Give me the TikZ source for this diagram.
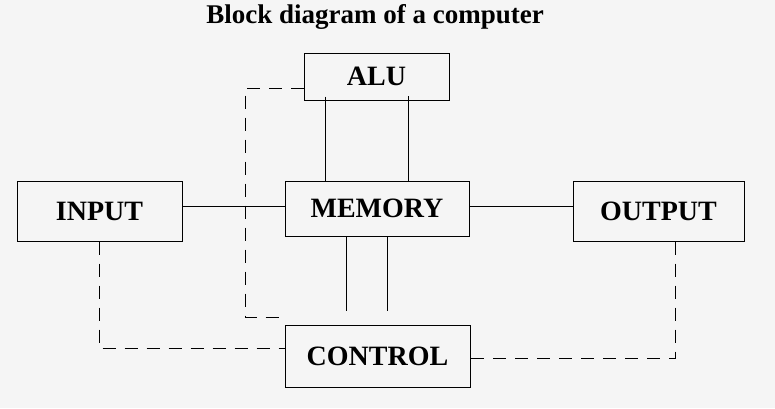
\documentclass[tikz,border=0pt]{standalone}
\usepackage{fontspec}
\setmainfont{Liberation Serif}
\begin{document}
\begin{tikzpicture}[x=1pt,y=-1pt,
 box/.style={draw,line width=1pt,inner sep=0pt,font=\bfseries\fontsize{28}{30}\selectfont},
 ln/.style={line width=0.9pt},
 dl/.style={line width=0.9pt,dash pattern=on 13pt off 9pt}]
\fill[black!4] (0,0) rectangle (775,408);
\useasboundingbox (0,0) rectangle (775,408);
\node[font=\bfseries\fontsize{27}{30}\selectfont] (title) at (375,17) {Block diagram of a computer};
\node[box,minimum width=145pt,minimum height=47pt] (alu) at (376.5,76.5) {ALU};
\node[box,minimum width=165pt,minimum height=60pt] (in) at (99.5,211) {INPUT};
\node[box,minimum width=184pt,minimum height=55pt] (mem) at (377,208.5) {MEMORY};
\node[box,minimum width=171pt,minimum height=60pt] (out) at (658.5,211) {OUTPUT};
\node[box,minimum width=185pt,minimum height=62pt] (ctl) at (377.5,356) {CONTROL};
\coordinate (m1) at (346,311); \coordinate (m2) at (387,311);
\draw[ln] (alu.south west -| 325,0) ++(0,-4) -- (325,181);
\draw[ln] (408,96) -- (408,181);
\draw[ln] (in.east |- 0,206) -- (mem.west |- 0,206);
\draw[ln] (mem.east |- 0,206) -- (out.west |- 0,206);
\draw[ln] (346,236) -- (m1);
\draw[ln] (387,236) -- (m2);
\draw[dl] (alu.west |- 0,88) -- (245,88) -- (245,317) -- (285,317);
\draw[dl] (in.south -| 99,0) -- (99,348) -- (ctl.west |- 0,348);
\draw[dl] (out.south -| 675,0) -- (675,358) -- (ctl.east |- 0,358);
\end{tikzpicture}
\end{document}
